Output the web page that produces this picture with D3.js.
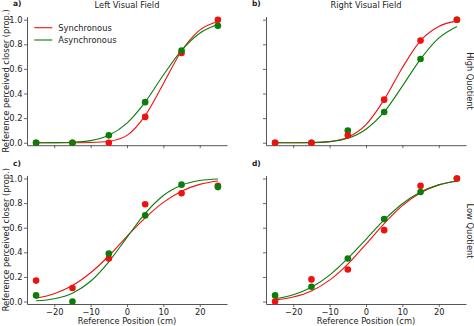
<!DOCTYPE html>
<html>
<head>
<meta charset="utf-8">
<script src="https://d3js.org/d3.v7.min.js"></script>
<style>
  body { margin: 0; background: #fff; }
  text { font-family: "DejaVu Sans", sans-serif; fill: #222; }
</style>
</head>
<body>
<div id="chart"></div>
<script>
// reference positions tested (cm)
var positions = [-25, -15, -5, 5, 15, 25];

// observed proportions "reference perceived closer"
var syncLeftHigh   = [0.00, 0.00, 0.00, 0.21, 0.73, 1.00];
var asyncLeftHigh  = [0.00, 0.00, 0.06, 0.33, 0.75, 0.95];
var syncRightHigh  = [0.00, 0.00, 0.06, 0.35, 0.83, 1.00];
var asyncRightHigh = [0.00, 0.00, 0.10, 0.25, 0.68, 1.00];
var syncLeftLow    = [0.17, 0.11, 0.35, 0.79, 0.88, 0.94];
var asyncLeftLow   = [0.05, 0.00, 0.39, 0.70, 0.95, 0.93];
var syncRightLow   = [0.00, 0.18, 0.26, 0.58, 0.94, 1.00];
var asyncRightLow  = [0.05, 0.12, 0.35, 0.67, 0.89, 1.00];

// fitted psychometric curves, sampled every 5 cm
var fitX = [-25, -20, -15, -10, -5, 0, 5, 10, 15, 20, 25];
var fitSyncLeftHigh   = [0.000, 0.000, 0.000, 0.002, 0.012, 0.060, 0.220, 0.480, 0.745, 0.915, 0.985];
var fitAsyncLeftHigh  = [0.000, 0.001, 0.004, 0.017, 0.060, 0.160, 0.330, 0.550, 0.750, 0.890, 0.960];
var fitSyncRightHigh  = [0.000, 0.000, 0.001, 0.009, 0.044, 0.147, 0.350, 0.610, 0.830, 0.945, 0.988];
var fitAsyncRightHigh = [0.000, 0.000, 0.002, 0.009, 0.036, 0.110, 0.250, 0.460, 0.680, 0.850, 0.945];
var fitSyncLeftLow    = [0.027, 0.064, 0.130, 0.234, 0.370, 0.530, 0.680, 0.806, 0.897, 0.952, 0.980];
var fitAsyncLeftLow   = [0.006, 0.023, 0.068, 0.165, 0.323, 0.522, 0.716, 0.862, 0.945, 0.983, 0.996];
var fitSyncRightLow   = [0.013, 0.037, 0.086, 0.174, 0.304, 0.466, 0.634, 0.779, 0.884, 0.948, 0.980];
var fitAsyncRightLow  = [0.023, 0.055, 0.116, 0.215, 0.350, 0.506, 0.663, 0.795, 0.890, 0.948, 0.979];

var yTicks = [0, 0.2, 0.4, 0.6, 0.8, 1.0];
var xTicks = [-20, -10, 0, 10, 20];

var RED = "#f01010", GREEN = "#0a7d0a";
var FS = 8.3;

var panels = [
  { tag: "a)", col: 0, row: 0, title: "Left Visual Field",
    sync: syncLeftHigh, async: asyncLeftHigh, fs: fitSyncLeftHigh, fa: fitAsyncLeftHigh, redOnTop: false },
  { tag: "b)", col: 1, row: 0, title: "Right Visual Field", side: "High Quotient",
    sync: syncRightHigh, async: asyncRightHigh, fs: fitSyncRightHigh, fa: fitAsyncRightHigh, redOnTop: true },
  { tag: "c)", col: 0, row: 1,
    sync: syncLeftLow, async: asyncLeftLow, fs: fitSyncLeftLow, fa: fitAsyncLeftLow, redOnTop: false },
  { tag: "d)", col: 1, row: 1, side: "Low Quotient",
    sync: syncRightLow, async: asyncRightLow, fs: fitSyncRightLow, fa: fitAsyncRightLow, redOnTop: true }
];

var svg = d3.select("#chart").append("svg")
  .attr("width", 474).attr("height", 326);

var colLeft = [27, 266], axW = 200;
var rowTop = [16.6, 175.4], axH = 128.6;

panels.forEach(function (p) {
  var x0 = colLeft[p.col], y0 = rowTop[p.row];
  var x = d3.scaleLinear().domain([-27.5, 27.5]).range([x0, x0 + axW]);
  var y = d3.scaleLinear().domain([-0.02, 1.025]).range([y0 + axH, y0]);
  var g = svg.append("g");

  // axes
  var xa = g.append("g")
    .attr("transform", "translate(0," + (y0 + axH) + ")")
    .call(d3.axisBottom(x).tickValues(xTicks).tickSize(3).tickSizeOuter(0).tickPadding(2)
      .tickFormat(p.row === 1 ? d3.format("d") : ""));
  var ya = g.append("g")
    .attr("transform", "translate(" + x0 + ",0)")
    .call(d3.axisLeft(y).tickValues(yTicks).tickSize(3).tickSizeOuter(0).tickPadding(1.5)
      .tickFormat(p.col === 0 ? d3.format(".1f") : ""));
  [xa, ya].forEach(function (a) {
    a.select(".domain").attr("stroke", "#444").attr("stroke-width", 0.9);
    a.selectAll(".tick line").attr("stroke", "#444").attr("stroke-width", 0.8);
    a.selectAll(".tick text").style("font-size", FS + "px").attr("fill", "#222");
  });

  // fitted curves
  var line = d3.line()
    .x(function (d, i) { return x(fitX[i]); })
    .y(function (d) { return y(d); })
    .curve(d3.curveMonotoneX);
  g.append("path").datum(p.fs).attr("d", line)
    .attr("fill", "none").attr("stroke", RED).attr("stroke-width", 1.1);
  g.append("path").datum(p.fa).attr("d", line)
    .attr("fill", "none").attr("stroke", GREEN).attr("stroke-width", 1.1);

  // observed points
  var layers = p.redOnTop ? [[p.async, GREEN], [p.sync, RED]] : [[p.sync, RED], [p.async, GREEN]];
  layers.forEach(function (l) {
    g.selectAll(null).data(l[0]).enter().append("circle")
      .attr("cx", function (d, i) { return x(positions[i]); })
      .attr("cy", function (d) { return y(d); })
      .attr("r", 3.3)
      .attr("fill", l[1]);
  });

  // panel letter
  g.append("text")
    .attr("x", x0 - 14).attr("y", p.row === 0 ? 6 : 166)
    .style("font-size", "7.5px").style("font-weight", "bold")
    .text(p.tag);

  if (p.title) {
    g.append("text")
      .attr("x", x0 + axW / 2).attr("y", 7.5)
      .attr("text-anchor", "middle")
      .style("font-size", FS + "px")
      .text(p.title);
  }

  if (p.side) {
    var cy = p.row === 0 ? 81 : 231;
    g.append("text")
      .attr("transform", "translate(467," + cy + ") rotate(90)")
      .attr("text-anchor", "middle")
      .style("font-size", FS + "px")
      .text(p.side);
  }

  if (p.col === 0) {
    g.append("text")
      .attr("transform", "translate(8.5," + (y0 + axH / 2) + ") rotate(-90)")
      .attr("text-anchor", "middle")
      .style("font-size", FS + "px")
      .text("Reference perceived closer (prop.)");
  }

  if (p.row === 1) {
    g.append("text")
      .attr("x", x0 + axW / 2).attr("y", 324)
      .attr("text-anchor", "middle")
      .style("font-size", FS + "px")
      .text("Reference Position (cm)");
  }
});

// legend (top-left panel)
var legend = svg.append("g");
[["Synchronous", RED, 27.7], ["Asynchronous", GREEN, 40]].forEach(function (e) {
  legend.append("line")
    .attr("x1", 34.3).attr("x2", 52.3).attr("y1", e[2]).attr("y2", e[2])
    .attr("stroke", e[1]).attr("stroke-width", 1.1);
  legend.append("text")
    .attr("x", 58.3).attr("y", e[2] + 3)
    .style("font-size", FS + "px")
    .text(e[0]);
});
</script>
</body>
</html>
